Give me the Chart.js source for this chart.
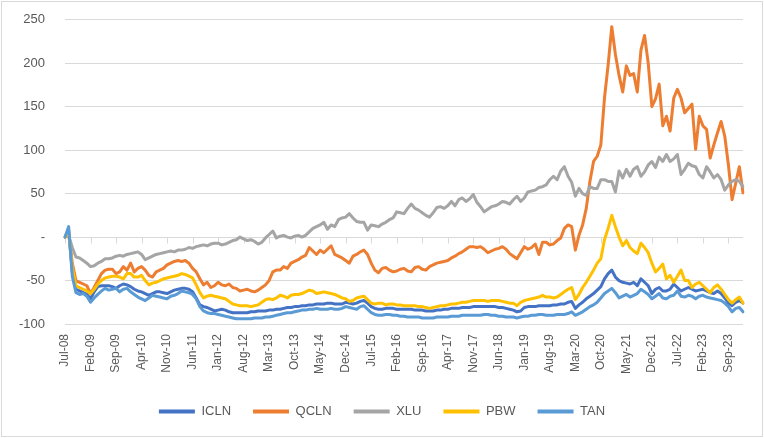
<!DOCTYPE html>
<html>
<head>
<meta charset="utf-8">
<script src="https://cdn.jsdelivr.net/npm/chart.js@4.4.1/dist/chart.umd.min.js"></script>
<style>
  html, body { margin: 0; padding: 0; background: #fff; }
  #wrap { width: 764px; height: 438px; position: relative; }
</style>
</head>
<body>
<div id="wrap"><canvas id="chart"></canvas></div>
<script>
// monthly % change since Jul-08, one row per Jul..Jun year
const icln = [
  0, 8, -40, -60, -62, -64, -66, -71, -63, -57, -56, -56,
  -56, -57, -59, -56, -54, -55, -57, -60, -62, -63, -65, -67,
  -65, -63, -63, -64, -65, -63, -61, -60, -59, -59, -60, -63,
  -70, -78, -80, -81, -83, -85, -84, -83, -84, -86, -87, -87,
  -87, -87, -87, -86, -86, -85, -85, -85, -84, -84, -83, -83,
  -82, -81, -81, -80, -80, -79, -79, -78, -78, -77, -77, -77,
  -76, -76, -77, -77, -77, -75, -76, -77, -76, -74, -73, -76,
  -80, -82, -83, -83, -82, -82, -82, -83, -83, -83, -83, -83,
  -84, -84, -84, -85, -85, -85, -84, -84, -83, -83, -82, -82,
  -82, -81, -81, -81, -80, -80, -80, -80, -80, -80, -80, -81,
  -81, -82, -83, -84, -86, -85, -81, -80, -80, -80, -79, -79,
  -79, -79, -78, -78, -77, -77, -75, -74, -82, -78, -75, -71,
  -68, -65, -61, -57, -48, -42, -38, -46, -50, -52, -53, -54,
  -52, -56, -48, -52, -56, -65, -60, -58, -62, -62, -60, -54,
  -58, -62, -60, -58, -60, -62, -61, -60, -62, -64, -65, -62,
  -65, -70, -76, -79, -75, -73, -76
];
const qcln = [
  0, 5, -30, -50, -52, -54, -56, -65, -58, -50, -42, -38,
  -37, -37, -42, -40, -34, -38, -30, -40, -36, -34, -38, -44,
  -46, -40, -38, -36, -32, -30, -28, -27, -28, -27, -30, -36,
  -40, -48, -55, -52, -58, -56, -52, -55, -56, -54, -58, -59,
  -62, -61, -60, -62, -63, -61, -58, -55, -50, -40, -38, -38,
  -34, -36, -30, -28, -26, -23, -21, -12, -16, -20, -15, -18,
  -14, -10, -20, -22, -24, -27, -30, -22, -20, -17, -15, -20,
  -30, -38, -41, -36, -35, -38, -40, -39, -37, -36, -39, -40,
  -35, -34, -37, -38, -34, -32, -30, -29, -28, -27, -24, -22,
  -19, -17, -14, -11, -11, -12, -11, -14, -18, -16, -14, -13,
  -11, -14, -19, -22, -25, -18, -11, -14, -12, -8, -20, -6,
  -6, -9, -8, -4, -1, 10, 14, 12, -15, 2, 14, 33,
  64, 87, 93, 106, 160, 198, 242, 210, 186, 167, 197, 186,
  188, 167, 215, 232, 200, 150, 159, 176, 128, 139, 122, 160,
  170, 160, 143, 148, 153, 101, 139, 128, 124, 91, 106, 120,
  133, 116, 83, 43, 62, 81, 51
];
const xlu = [
  0, 2, -12, -23, -24, -27, -30, -34, -33, -30, -28, -25,
  -25, -24, -22, -21, -22, -20, -19, -18, -17, -20, -26, -24,
  -22, -20, -19, -18, -17, -16, -17, -15, -15, -14, -12, -13,
  -11, -10, -9, -10, -8, -7, -7, -9, -8, -6, -4, -3,
  0, -2, -4, -3, -5, -8, -6, -1, 3, 7, -1, 1,
  2, 0, -1, 1, 2, 0, 2, 6, 10, 12, 14, 17,
  9, 14, 12, 20, 22, 23, 27, 22, 18, 17, 17, 8,
  14, 13, 12, 15, 17, 20, 22, 29, 28, 27, 33, 38,
  33, 31, 28, 25, 23, 28, 34, 35, 33, 36, 41, 36,
  43, 45, 41, 44, 49, 40, 35, 29, 32, 35, 36, 38,
  41, 40, 38, 43, 47, 41, 45, 52, 53, 54, 57, 58,
  60, 66, 70, 66, 76, 81, 70, 63, 47, 56, 50, 48,
  58, 56, 56, 66, 66, 64, 64, 52, 76, 68, 78, 70,
  78, 81, 70, 75, 83, 87, 80, 92, 87, 95, 87, 90,
  95, 72, 78, 85, 82, 81, 72, 68, 81, 75, 68, 72,
  66, 54, 60, 64, 66, 64, 58
];
const pbw = [
  0, 6, -35, -56, -58, -60, -62, -65, -60, -54, -50, -47,
  -46, -45, -45, -46, -48, -42, -42, -46, -46, -44, -50, -55,
  -53, -52, -50, -48, -47, -46, -45, -44, -42, -43, -45, -47,
  -55, -64, -70, -68, -67, -68, -69, -70, -71, -74, -77, -78,
  -79, -79, -79, -80, -79, -78, -75, -72, -71, -72, -70, -67,
  -68, -70, -67, -66, -66, -65, -63, -61, -62, -65, -64, -63,
  -64, -65, -66, -68, -70, -71, -74, -73, -70, -69, -68, -72,
  -76, -77, -76, -76, -78, -77, -77, -78, -78, -79, -79, -79,
  -79, -80, -80, -81, -82, -81, -80, -79, -79, -78, -77, -77,
  -76, -75, -75, -74, -73, -73, -73, -73, -74, -73, -73, -73,
  -74, -75, -76, -76, -79, -75, -73, -72, -71, -70, -69, -67,
  -69, -69, -70, -69, -66, -63, -60, -58, -72, -66, -58, -52,
  -45, -38, -30, -25, -3, 10, 25, 12, 0, -10, -4, -12,
  -16, -19, -7, -12, -18, -30, -40, -36, -31, -48, -44, -52,
  -45, -38, -50, -50, -58, -54, -52, -56, -60, -64, -58, -55,
  -60, -66, -72, -76, -72, -69, -76
];
const tan = [
  0, 12, -45, -64, -66, -65, -68, -75, -70, -66, -62, -59,
  -61, -60, -59, -63, -60, -59, -63, -66, -69, -71, -73, -70,
  -67, -68, -69, -70, -71, -68, -67, -65, -62, -63, -64, -66,
  -71, -80, -85, -87, -88, -88, -89, -90, -91, -92, -93, -94,
  -94, -94, -94, -94, -93, -93, -93, -92, -92, -91, -90, -89,
  -88, -87, -87, -86, -85, -84, -84, -83, -83, -82, -83, -83,
  -83, -82, -83, -83, -82, -80, -81, -82, -83, -80, -79, -83,
  -87, -89, -90, -90, -89, -89, -90, -90, -91, -91, -92, -92,
  -92, -92, -93, -93, -93, -93, -92, -92, -92, -92, -91, -91,
  -91, -90, -90, -90, -90, -90, -90, -89, -89, -90, -90, -91,
  -91, -92, -92, -92, -93, -92, -91, -91, -90, -90, -89, -89,
  -90, -90, -90, -89, -89, -89, -88, -86, -90, -88, -86, -83,
  -80, -78, -75, -70, -65, -62, -59, -64, -70, -68, -66, -69,
  -67, -65, -60, -63, -66, -71, -68, -65, -70, -71, -68, -67,
  -62, -68, -69, -67, -68, -71, -68, -67, -69, -70, -71, -72,
  -73, -76, -80, -86, -82, -81, -86
];

const monthNames = ['Jan', 'Feb', 'Mar', 'Apr', 'May', 'Jun', 'Jul', 'Aug', 'Sep', 'Oct', 'Nov', 'Dec'];
const months = [];
for (let i = 0; i < icln.length; i++) {
  const m = 6 + i; // start Jul-08
  months.push(monthNames[m % 12] + '-' + String(8 + Math.floor(m / 12)).padStart(2, '0'));
}
const labelEvery = 7;

const grey = '#d9d9d9';
const textColor = '#595959';

// small tick marks on the zero line, like the Excel axis
const zeroAxisTicks = {
  id: 'zeroAxisTicks',
  beforeDatasetsDraw(chart) {
    const { ctx, scales: { x, y } } = chart;
    const y0 = Math.round(y.getPixelForValue(0)) + 0.5;
    ctx.save();
    ctx.strokeStyle = grey;
    ctx.lineWidth = 1;
    ctx.beginPath();
    months.forEach((m, i) => {
      if (i % labelEvery !== 0) return;
      const px = Math.round(x.getPixelForValue(i)) + 0.5;
      ctx.moveTo(px, y0);
      ctx.lineTo(px, y0 + 6);
    });
    ctx.stroke();
    ctx.restore();
  }
};

const frame = {
  id: 'frame',
  afterDraw(chart) {
    const { ctx, width, height } = chart;
    ctx.save();
    ctx.strokeStyle = grey;
    ctx.lineWidth = 1;
    ctx.strokeRect(1.5, 1.5, width - 3, height - 3);
    ctx.restore();
  }
};

const series = [
  { label: 'ICLN', data: icln, color: '#4472C4', order: 5 },
  { label: 'QCLN', data: qcln, color: '#ED7D31', order: 4 },
  { label: 'XLU', data: xlu, color: '#A5A5A5', order: 3 },
  { label: 'PBW', data: pbw, color: '#FFC000', order: 2 },
  { label: 'TAN', data: tan, color: '#5B9BD5', order: 1 }
];

new Chart(document.getElementById('chart'), {
  type: 'line',
  data: {
    labels: months,
    datasets: series.map(s => ({
      label: s.label,
      data: s.data,
      borderColor: s.color,
      backgroundColor: s.color,
      borderWidth: 3,
      pointRadius: 0,
      tension: 0,
      borderJoinStyle: 'round',
      borderCapStyle: 'round',
      order: s.order
    }))
  },
  options: {
    responsive: true,
    maintainAspectRatio: false,
    animation: false,
    layout: { padding: { top: 13, right: 0, left: 0, bottom: 10 } },
    plugins: {
      tooltip: { enabled: false },
      legend: {
        position: 'bottom',
        labels: {
          boxWidth: 36,
          boxHeight: 4,
          padding: 22,
          color: textColor,
          font: { family: 'Liberation Sans', size: 13 },
          generateLabels: chart => Chart.defaults.plugins.legend.labels.generateLabels(chart)
            .map(l => ({ ...l, lineWidth: 0 }))
            .sort((a, b) => a.datasetIndex - b.datasetIndex)
        }
      }
    },
    scales: {
      x: {
        grid: { display: false, drawTicks: false },
        border: { display: false },
        ticks: {
          autoSkip: false,
          maxRotation: 90,
          minRotation: 90,
          padding: 10,
          color: textColor,
          font: { family: 'Liberation Sans', size: 12 },
          callback: (v, i) => (i % labelEvery === 0 ? months[i] : null)
        },
        afterFit: scale => { scale.height = 59; }
      },
      y: {
        min: -100,
        max: 250,
        // invisible tick marks push the labels left without adding top padding
        grid: { color: grey, drawTicks: true, tickLength: 8, tickColor: 'rgba(0,0,0,0)' },
        border: { display: false },
        ticks: {
          stepSize: 50,
          padding: 12,
          color: textColor,
          font: { family: 'Liberation Sans', size: 13 },
          callback: v => (v === 0 ? '-' : v)
        },
        afterFit: scale => { scale.width = 65; }
      },
      // empty right-hand spacer so the plot stops where Excel's does
      spacer: {
        type: 'linear',
        position: 'right',
        display: true,
        grid: { display: false, drawTicks: false },
        border: { display: false },
        ticks: { display: false },
        afterFit: scale => { scale.width = 21; }
      }
    }
  },
  plugins: [zeroAxisTicks, frame]
});
</script>
</body>
</html>
